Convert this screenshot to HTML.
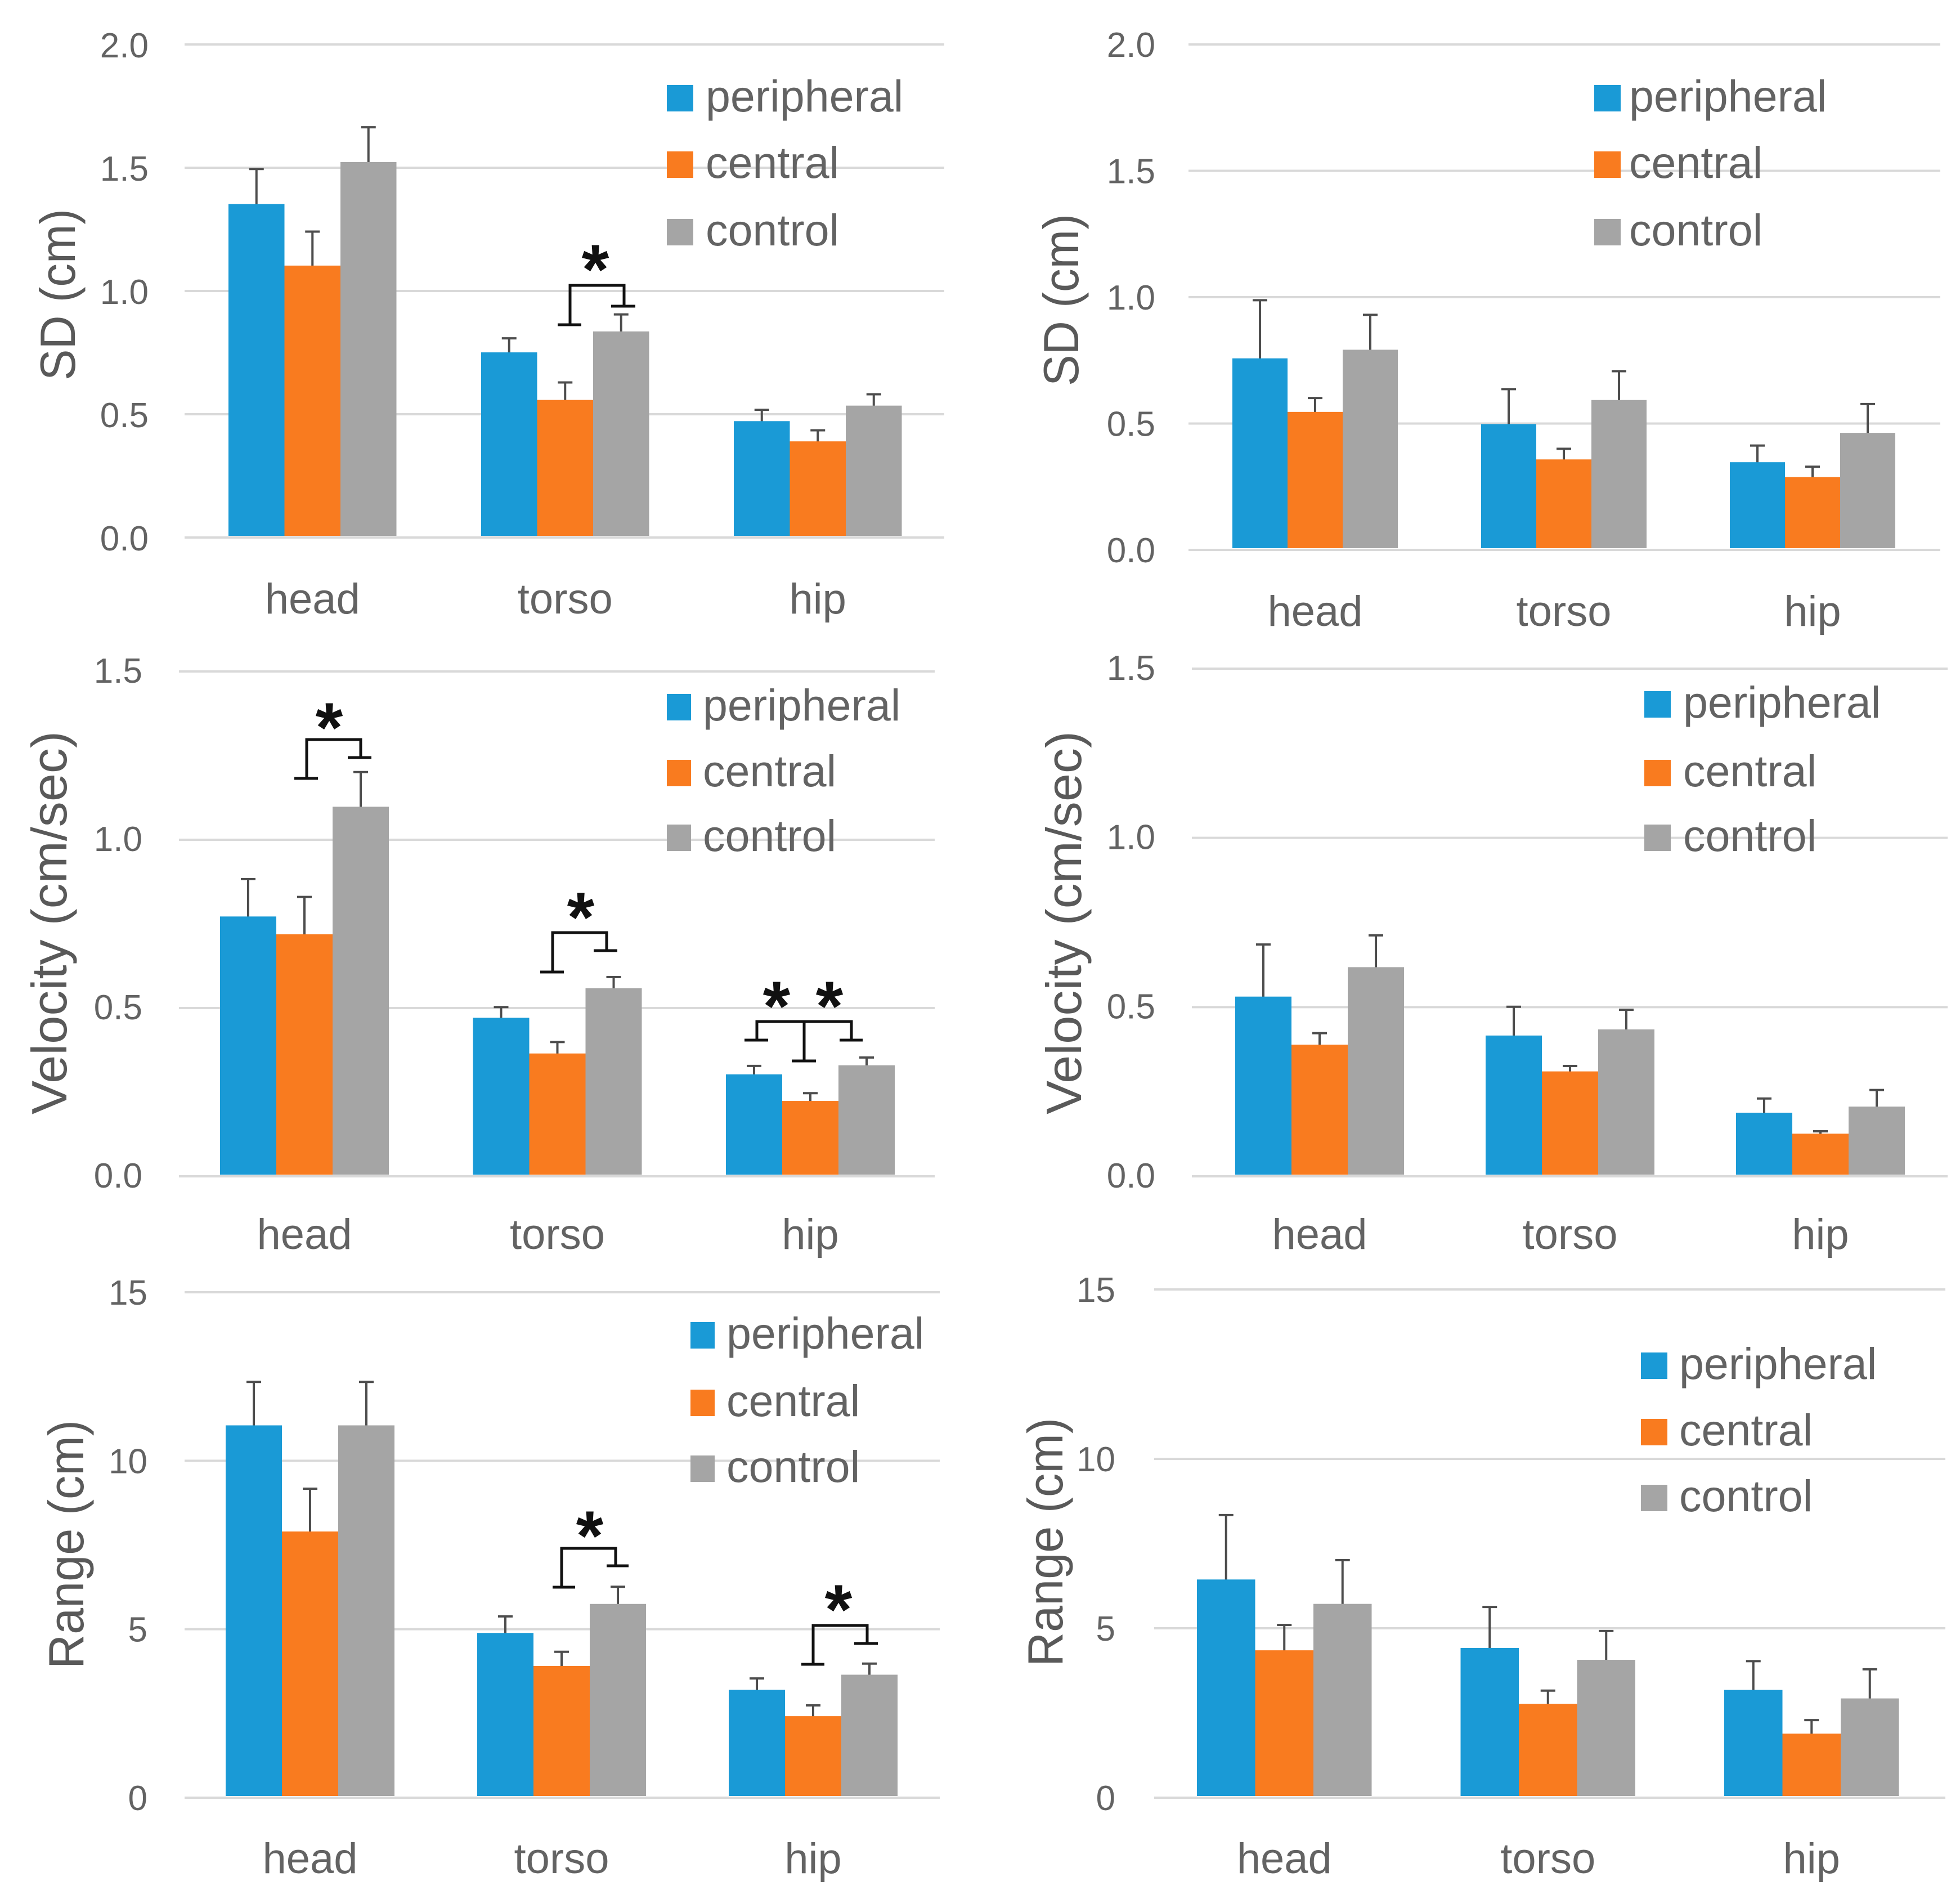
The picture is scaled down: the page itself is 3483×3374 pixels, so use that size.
<!DOCTYPE html>
<html lang="en">
<head>
<meta charset="utf-8">
<title>Postural sway bar charts</title>
<style>
html,body{margin:0;padding:0;background:#fff;}
svg{display:block;}
text{font-family:"Liberation Sans",sans-serif;}
.tick{font-size:62px;fill:#636363;text-anchor:end;}
.cat{font-size:76px;fill:#636363;text-anchor:middle;}
.leg{font-size:79px;fill:#636363;}
.ytitle{font-size:88px;fill:#595959;}
.star{font-size:125px;font-weight:bold;fill:#111;text-anchor:middle;}
.br{stroke:#111;stroke-width:5;fill:none;}
</style>
</head>
<body>
<svg id="figure" width="3483" height="3374" viewBox="0 0 3483 3374" xmlns="http://www.w3.org/2000/svg">
<rect x="0" y="0" width="3483" height="3374" fill="#fff"/>
<g id="charts"></g>

<g id="annotations">
  <g>
    <path class="br" d="M991 577H1033M1013 577V507H1109V544M1086 544H1129"/>
    <text class="star" x="1058" y="522">*</text>
  </g>
  <g>
    <path class="br" d="M523 1383H565M545 1383V1314H641V1346M618 1346H660"/>
    <text class="star" x="585" y="1336">*</text>
  </g>
  <g>
    <path class="br" d="M960 1727H1002M982 1727V1657H1078V1689M1055 1689H1097"/>
    <text class="star" x="1032" y="1673">*</text>
  </g>
  <g>
    <path class="br" d="M1323 1848H1365M1345 1848V1815H1513V1848M1492 1848H1533M1429 1815V1885M1407 1885H1450"/>
    <text class="star" x="1380" y="1831">*</text>
    <text class="star" x="1474" y="1831">*</text>
  </g>
  <g>
    <path class="br" d="M982 2820H1022M998 2820V2751H1094V2782M1078 2782H1117"/>
    <text class="star" x="1048" y="2772">*</text>
  </g>
  <g>
    <path class="br" d="M1424 2957H1465M1445 2957V2888H1541V2920M1518 2920H1560"/>
    <text class="star" x="1490" y="2903">*</text>
  </g>
</g>
</svg>

<script>
// ---- shared labels ----
const categories = ['head', 'torso', 'hip'];
const seriesNames = ['peripheral', 'central', 'control'];
const seriesColors = ['#1a9ad6', '#f97b1f', '#a5a5a5'];
const sdTickLabels = ['0.0', '0.5', '1.0', '1.5', '2.0'];
const velocityTickLabels = ['0.0', '0.5', '1.0', '1.5'];
const rangeTickLabels = ['0', '5', '10', '15'];

// ---- SD, left panel ----
const sdLeftPeripheral = [1.353, 0.751, 0.472];
const sdLeftCentral = [1.103, 0.558, 0.390];
const sdLeftControl = [1.523, 0.836, 0.535];
const sdLeftPeripheralTop = [1.495, 0.808, 0.518];
const sdLeftCentralTop = [1.241, 0.629, 0.435];
const sdLeftControlTop = [1.664, 0.905, 0.581];

// ---- SD, right panel ----
const sdRightPeripheral = [0.758, 0.498, 0.347];
const sdRightCentral = [0.546, 0.358, 0.288];
const sdRightControl = [0.792, 0.593, 0.463];
const sdRightPeripheralTop = [0.988, 0.636, 0.413];
const sdRightCentralTop = [0.601, 0.400, 0.329];
const sdRightControlTop = [0.930, 0.707, 0.577];

// ---- Velocity, left panel ----
const velLeftPeripheral = [0.772, 0.471, 0.303];
const velLeftCentral = [0.719, 0.365, 0.224];
const velLeftControl = [1.098, 0.559, 0.330];
const velLeftPeripheralTop = [0.883, 0.503, 0.328];
const velLeftCentralTop = [0.830, 0.399, 0.247];
const velLeftControlTop = [1.201, 0.592, 0.353];

// ---- Velocity, right panel ----
const velRightPeripheral = [0.531, 0.416, 0.188];
const velRightCentral = [0.389, 0.310, 0.126];
const velRightControl = [0.618, 0.434, 0.206];
const velRightPeripheralTop = [0.685, 0.501, 0.230];
const velRightCentralTop = [0.423, 0.326, 0.133];
const velRightControlTop = [0.712, 0.492, 0.255];

// ---- Range, left panel ----
const rangeLeftPeripheral = [11.05, 4.89, 3.20];
const rangeLeftCentral = [7.90, 3.91, 2.42];
const rangeLeftControl = [11.05, 5.75, 3.65];
const rangeLeftPeripheralTop = [12.34, 5.38, 3.54];
const rangeLeftCentralTop = [9.17, 4.33, 2.74];
const rangeLeftControlTop = [12.34, 6.26, 3.98];

// ---- Range, right panel ----
const rangeRightPeripheral = [6.44, 4.42, 3.18];
const rangeRightCentral = [4.35, 2.77, 1.89];
const rangeRightControl = [5.72, 4.07, 2.93];
const rangeRightPeripheralTop = [8.34, 5.63, 4.03];
const rangeRightCentralTop = [5.10, 3.16, 2.29];
const rangeRightControlTop = [7.01, 4.92, 3.79];

const SVGNS = 'http://www.w3.org/2000/svg';
function make(tag, parent, attrs, txt) {
  const el = document.createElementNS(SVGNS, tag);
  for (const k in attrs) el.setAttribute(k, attrs[k]);
  if (txt !== undefined) el.textContent = txt;
  parent.appendChild(el);
  return el;
}

function drawPanel(p) {
  const root = document.getElementById('charts');
  const g = make('g', root, {});
  
  

  const yMax = Number(p.ticks[p.ticks.length - 1]);
  const yScale = v => p.base - (v / yMax) * (p.base - p.top);
  const xScale = (cat, ser) => p.x0 + cat * p.step + ser * p.barW;

  // gridlines and tick labels
  p.ticks.forEach(t => {
    const y = yScale(Number(t));
    const line = make('line', g, {x1: p.gridL, x2: p.gridR, y1: y, y2: y, stroke: '#d9d9d9', 'stroke-width': 4});
    
    
    const label = make('text', g, {class: 'tick', x: p.tickX, y: y + p.tickDy}, t);
    
    
  });

  // bars with error bars
  p.values.forEach((vals, s) => {
    vals.forEach((v, c) => {
      const x = xScale(c, s);
      const cx = x + p.barW / 2;
      const yTop = yScale(p.tops[s][c]);
      const yVal = yScale(v);
      const whisker = make('line', g, {x1: cx, x2: cx, y1: yTop, y2: yVal + 6, stroke: '#4d4d4d', 'stroke-width': 4});
      
      
      const cap = make('line', g, {x1: cx - 13, x2: cx + 13, y1: yTop, y2: yTop, stroke: '#4d4d4d', 'stroke-width': 4});
      
      
      const bar = make('rect', g, {x: x, y: yVal, width: p.barW, height: p.base - 3 - yVal, fill: seriesColors[s]});
      
      
    });
  });

  // category labels
  categories.forEach((c, i) => {
    const label = make('text', g, {class: 'cat', x: xScale(i, 1.5), y: p.catY}, c);
    
    
  });

  // y axis title
  const title = make('text', g, {
    class: 'ytitle',
    transform: 'translate(' + p.titleX + ',' + p.titleY + ') rotate(-90)',
    textLength: p.titleLen,
    lengthAdjust: 'spacingAndGlyphs'
  }, p.title);
  
  

  // legend
  seriesNames.forEach((n, i) => {
    const swatch = make('rect', g, {x: p.legX, y: p.legY[i] - 47, width: p.legW, height: 47, fill: seriesColors[i]});
    
    
    const label = make('text', g, {class: 'leg', x: p.legTextX, y: p.legY[i]}, n);
    
    
  });
}

drawPanel({
  name: 'sd-chart-left', title: 'SD (cm)', ticks: sdTickLabels,
  values: [sdLeftPeripheral, sdLeftCentral, sdLeftControl],
  tops: [sdLeftPeripheralTop, sdLeftCentralTop, sdLeftControlTop],
  gridL: 328, gridR: 1678, top: 79, base: 955, x0: 406, step: 449, barW: 99.5,
  tickX: 264, tickDy: 23, catY: 1090, titleX: 133, titleY: 676, titleLen: 305,
  legX: 1185, legW: 47, legTextX: 1254, legY: [198, 316, 436]
});
drawPanel({
  name: 'sd-chart-right', title: 'SD (cm)', ticks: sdTickLabels,
  values: [sdRightPeripheral, sdRightCentral, sdRightControl],
  tops: [sdRightPeripheralTop, sdRightCentralTop, sdRightControlTop],
  gridL: 2112, gridR: 3448, top: 79, base: 977, x0: 2190, step: 442, barW: 98,
  tickX: 2053, tickDy: 22, catY: 1112, titleX: 1916, titleY: 686, titleLen: 306,
  legX: 2833, legW: 47, legTextX: 2895, legY: [198, 316, 436]
});
drawPanel({
  name: 'velocity-chart-left', title: 'Velocity (cm/sec)', ticks: velocityTickLabels,
  values: [velLeftPeripheral, velLeftCentral, velLeftControl],
  tops: [velLeftPeripheralTop, velLeftCentralTop, velLeftControlTop],
  gridL: 318, gridR: 1661, top: 1193, base: 2090, x0: 391, step: 449.5, barW: 100,
  tickX: 253, tickDy: 20, catY: 2219, titleX: 118, titleY: 1980, titleLen: 681,
  legX: 1185, legW: 43, legTextX: 1249, legY: [1280, 1397, 1512]
});
drawPanel({
  name: 'velocity-chart-right', title: 'Velocity (cm/sec)', ticks: velocityTickLabels,
  values: [velRightPeripheral, velRightCentral, velRightControl],
  tops: [velRightPeripheralTop, velRightCentralTop, velRightControlTop],
  gridL: 2118, gridR: 3461, top: 1188, base: 2090, x0: 2195, step: 445, barW: 100,
  tickX: 2053, tickDy: 20, catY: 2219, titleX: 1921, titleY: 1980, titleLen: 681,
  legX: 2922, legW: 47, legTextX: 2991, legY: [1275, 1397, 1512]
});
drawPanel({
  name: 'range-chart-left', title: 'Range (cm)', ticks: rangeTickLabels,
  values: [rangeLeftPeripheral, rangeLeftCentral, rangeLeftControl],
  tops: [rangeLeftPeripheralTop, rangeLeftCentralTop, rangeLeftControlTop],
  gridL: 328, gridR: 1670, top: 2296, base: 3194, x0: 401, step: 447, barW: 100,
  tickX: 262, tickDy: 22, catY: 3328, titleX: 148, titleY: 2965, titleLen: 442,
  legX: 1227, legW: 43, legTextX: 1291, legY: [2396, 2516, 2633]
});
drawPanel({
  name: 'range-chart-right', title: 'Range (cm)', ticks: rangeTickLabels,
  values: [rangeRightPeripheral, rangeRightCentral, rangeRightControl],
  tops: [rangeRightPeripheralTop, rangeRightCentralTop, rangeRightControlTop],
  gridL: 2051, gridR: 3457, top: 2291, base: 3194, x0: 2127, step: 468.5, barW: 103.5,
  tickX: 1982, tickDy: 22, catY: 3328, titleX: 1888, titleY: 2961, titleLen: 442,
  legX: 2916, legW: 47, legTextX: 2984, legY: [2450, 2568, 2685]
});
</script>
</body>
</html>
